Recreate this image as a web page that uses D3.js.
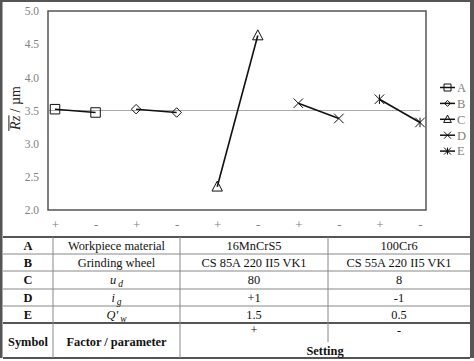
<!DOCTYPE html>
<html>
<head>
<meta charset="utf-8">
<script src="https://cdn.jsdelivr.net/npm/d3@7"></script>
<style>
  body { margin: 0; background: #fff; }
  svg text { font-family: "Liberation Serif", "Times New Roman", serif; }
</style>
</head>
<body>
<script>
// main effects of the five factors on the mean roughness Rz
const factors = ["A", "B", "C", "D", "E"];
const levels = ["+", "-"];
const rzPlus = [3.52, 3.52, 2.35, 3.61, 3.67];
const rzMinus = [3.47, 3.47, 4.63, 3.38, 3.32];
const grandMean = 3.5;
const yTicks = [2.0, 2.5, 3.0, 3.5, 4.0, 4.5, 5.0];
const markerTypes = ["square", "diamond", "triangle", "cross", "star"];

// table below the chart
const factorNames = ["Workpiece material", "Grinding wheel", "u|d", "i|g", "Q'|w"];
const settingPlus = ["16MnCrS5", "CS 85A 220 II5 VK1", "80", "+1", "1.5"];
const settingMinus = ["100Cr6", "CS 55A 220 II5 VK1", "8", "-1", "0.5"];

const W = 474, H = 361;
const serif = "'Liberation Serif', 'Times New Roman', serif";
const svg = d3.select("body").append("svg").attr("width", W).attr("height", H);

const plot = { left: 48, right: 426, top: 11, bottom: 210 };
const x = d3.scalePoint().domain(d3.range(10)).range([55, 420]);
const y = d3.scaleLinear().domain([2, 5]).range([plot.bottom, plot.top]);

// y axis
const yAxis = svg.append("g")
  .attr("transform", `translate(${plot.left},0)`)
  .call(d3.axisLeft(y).tickValues(yTicks).tickFormat(d3.format(".1f")).tickSize(0).tickPadding(9));
yAxis.attr("font-family", serif);
yAxis.select(".domain").remove();
yAxis.selectAll("text").attr("font-size", 11.5).attr("fill", "#808080");

// x axis: + / - for each factor
const xAxis = svg.append("g")
  .attr("transform", `translate(0,${plot.bottom})`)
  .call(d3.axisBottom(x).tickFormat(i => levels[i % 2]).tickSize(0).tickPadding(10));
xAxis.attr("font-family", serif);
xAxis.select(".domain").remove();
xAxis.selectAll("text").attr("font-size", 13).attr("fill", "#808080");

// plot frame
svg.append("rect")
  .attr("x", plot.left).attr("y", plot.top)
  .attr("width", plot.right - plot.left).attr("height", plot.bottom - plot.top)
  .attr("fill", "none").attr("stroke", "#555").attr("stroke-width", 1.5);

// grand mean line
svg.append("line")
  .attr("x1", plot.left + 1).attr("x2", x(9))
  .attr("y1", y(grandMean)).attr("y2", y(grandMean))
  .attr("stroke", "#aaa").attr("stroke-width", 1);

// y axis title, Rz with a bar over it
const title = svg.append("g").attr("transform", "translate(15,108) rotate(-90)");
const tt = title.append("text")
  .attr("text-anchor", "middle").attr("dy", "0.35em")
  .attr("font-size", 14).attr("fill", "#222");
const rz = tt.append("tspan").attr("font-style", "italic").text("Rz");
tt.append("tspan").text(" / µm");
const bb = rz.node().getBBox();
title.append("line")
  .attr("x1", bb.x).attr("x2", bb.x + bb.width)
  .attr("y1", bb.y + 1).attr("y2", bb.y + 1)
  .attr("stroke", "#222").attr("stroke-width", 1);

function marker(g, type, s) {
  const p = d3.path();
  if (type === "square") {
    p.rect(-s / 2, -s / 2, s, s);
  } else if (type === "diamond") {
    p.moveTo(0, -s / 2); p.lineTo(s / 2, 0); p.lineTo(0, s / 2); p.lineTo(-s / 2, 0); p.closePath();
  } else if (type === "triangle") {
    p.moveTo(0, -s * 0.6); p.lineTo(s * 0.55, s * 0.45); p.lineTo(-s * 0.55, s * 0.45); p.closePath();
  } else {
    const r = s / 2;
    p.moveTo(-r, -r); p.lineTo(r, r); p.moveTo(r, -r); p.lineTo(-r, r);
    if (type === "star") { p.moveTo(0, -r); p.lineTo(0, r); }
  }
  g.append("path").attr("d", p.toString())
    .attr("fill", "none").attr("stroke", "#111").attr("stroke-width", 1);
}

// series
factors.forEach((f, i) => {
  const pts = [[x(2 * i), y(rzPlus[i])], [x(2 * i + 1), y(rzMinus[i])]];
  svg.append("path")
    .attr("d", d3.line()(pts))
    .attr("fill", "none").attr("stroke", "#111").attr("stroke-width", 1.6);
  pts.forEach(pt => {
    const g = svg.append("g").attr("transform", `translate(${pt[0]},${pt[1]})`);
    marker(g, markerTypes[i], 9.5);
  });
});

// legend
const legend = svg.append("g");
factors.forEach((f, i) => {
  const ly = 87.5 + i * 15.9;
  legend.append("line").attr("x1", 440).attr("x2", 455).attr("y1", ly).attr("y2", ly)
    .attr("stroke", "#111").attr("stroke-width", 1.5);
  const g = legend.append("g").attr("transform", `translate(447.5,${ly})`);
  marker(g, markerTypes[i], i === 1 ? 6 : 7);
  legend.append("text").attr("x", 457).attr("y", ly).attr("dy", "0.35em")
    .attr("font-size", 12.5).attr("fill", "#808080").text(f);
});

// table
const tab = { left: 3, right: 470, top: 237, bottom: 358 };
const rowY = [237, 254, 271, 289, 306, 323];
const colX = [53, 180, 328];
const t = svg.append("g");

rowY.slice(1, 5).forEach(ry => {
  t.append("line").attr("x1", tab.left).attr("x2", tab.right).attr("y1", ry).attr("y2", ry)
    .attr("stroke", "#888").attr("stroke-width", 1);
});
[tab.top, rowY[5], tab.bottom].forEach(ry => {
  t.append("line").attr("x1", tab.left).attr("x2", tab.right).attr("y1", ry).attr("y2", ry)
    .attr("stroke", "#555").attr("stroke-width", 2);
});
colX.forEach((cx, i) => {
  t.append("line").attr("x1", cx).attr("x2", cx)
    .attr("y1", tab.top).attr("y2", i === 2 ? 342 : tab.bottom)
    .attr("stroke", "#888").attr("stroke-width", 1);
});

function cellText(cx, cy, str, bold) {
  const el = t.append("text").attr("x", cx).attr("y", cy).attr("dy", "0.35em")
    .attr("text-anchor", "middle").attr("font-size", 12.4).attr("fill", "#111");
  if (bold) el.attr("font-weight", "bold");
  if (str.includes("|")) {
    const [base, sub] = str.split("|");
    el.append("tspan").attr("font-style", "italic").text(base);
    el.append("tspan").attr("font-style", "italic").attr("font-size", 9.5).attr("dx", 2).attr("dy", 3).text(sub);
  } else {
    el.text(str);
  }
  return el;
}

factors.forEach((f, i) => {
  const cy = (rowY[i] + rowY[i + 1]) / 2;
  cellText((tab.left + colX[0]) / 2, cy, f, true);
  cellText((colX[0] + colX[1]) / 2, cy, factorNames[i], false);
  cellText((colX[1] + colX[2]) / 2, cy, settingPlus[i], false);
  cellText((colX[2] + tab.right) / 2, cy, settingMinus[i], false);
});

cellText((tab.left + colX[0]) / 2, 342, "Symbol", true);
cellText((colX[0] + colX[1]) / 2, 342, "Factor / parameter", true);
cellText((colX[1] + colX[2]) / 2, 330, levels[0], false);
cellText((colX[2] + tab.right) / 2, 330, levels[1], false);
cellText((colX[1] + tab.right) / 2, 351, "Setting", true);

// outer frame of the figure
svg.append("rect").attr("x", 0).attr("y", 0).attr("width", 2.5).attr("height", tab.bottom).attr("fill", "#555");
svg.append("rect").attr("x", 0).attr("y", 0).attr("width", W).attr("height", 2).attr("fill", "#555");
svg.append("rect").attr("x", 470).attr("y", 0).attr("width", 4).attr("height", tab.bottom).attr("fill", "#555");
</script>
</body>
</html>
